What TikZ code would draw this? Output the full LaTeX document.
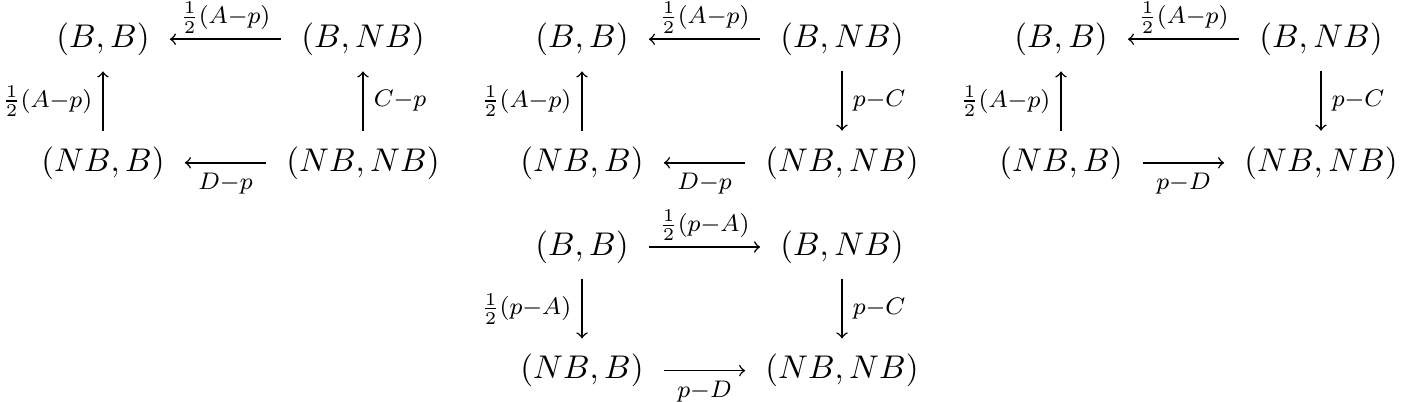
\documentclass[tikz,border=0pt]{standalone}
\usepackage{amsmath,amsfonts,amssymb}
\usepackage{tikz}
\usetikzlibrary{positioning}

\begin{document}
\begin{tikzpicture}[->,>=to,line width=0.5pt,on grid,node distance=41.2pt and 86.67pt,
  nodes={font=\fontsize{10.95pt}{13.6pt}\selectfont},
  cell/.style={inner xsep=6.5pt,inner ysep=5pt},
  toplab/.style={above,inner sep=1.8pt}]
\useasboundingbox (0,0) rectangle (468pt,133.67pt);
% first square
\node[cell] (bb1) at (34.33pt,120.6pt) {$(B,B)$};
\node[cell] (bnb1) [right=of bb1] {$(B,NB)$};
\node[cell] (nbb1) [below=of bb1] {$(NB,B)$};
\node[cell] (nbnb1) [right=of nbb1] {$(NB,NB)$};
% second square
\node[cell] (bb2) at (194pt,120.6pt) {$(B,B)$};
\node[cell] (bnb2) [right=of bb2] {$(B,NB)$};
\node[cell] (nbb2) [below=of bb2] {$(NB,B)$};
\node[cell] (nbnb2) [right=of nbb2] {$(NB,NB)$};
% third square
\node[cell] (bb3) at (353.67pt,120.6pt) {$(B,B)$};
\node[cell] (bnb3) [right=of bb3] {$(B,NB)$};
\node[cell] (nbb3) [below=of bb3] {$(NB,B)$};
\node[cell] (nbnb3) [right=of nbb3] {$(NB,NB)$};
% fourth square
\node[cell] (bb4) at (194pt,51.33pt) {$(B,B)$};
\node[cell] (bnb4) [right=of bb4] {$(B,NB)$};
\node[cell] (nbb4) [below=of bb4] {$(NB,B)$};
\node[cell] (nbnb4) [right=of nbb4] {$(NB,NB)$};

\path (bnb1) edge node[toplab] {$\scriptstyle\frac{1}{2}(A-p)$} (bb1)
(nbb1) edge node[left] {$\scriptstyle\frac{1}{2}(A-p)$} (bb1)
(nbnb1) edge node[right] {$\scriptstyle C-p$} (bnb1)
(nbnb1) edge node[below] {$\scriptstyle D-p$} (nbb1);

\path (bnb2) edge node[toplab] {$\scriptstyle\frac{1}{2}(A-p)$} (bb2)
(nbb2) edge node[left] {$\scriptstyle\frac{1}{2}(A-p)$} (bb2)
(bnb2) edge node[right] {$\scriptstyle p-C$} (nbnb2)
(nbnb2) edge node[below] {$\scriptstyle D-p$} (nbb2);

\path (bnb3) edge node[toplab] {$\scriptstyle\frac{1}{2}(A-p)$} (bb3)
(nbb3) edge node[left] {$\scriptstyle\frac{1}{2}(A-p)$} (bb3)
(bnb3) edge node[right] {$\scriptstyle p-C$} (nbnb3)
(nbb3) edge node[below] {$\scriptstyle p-D$} (nbnb3);

\path (bb4) edge node[toplab] {$\scriptstyle\frac{1}{2}(p-A)$} (bnb4)
(bb4) edge node[left] {$\scriptstyle\frac{1}{2}(p-A)$} (nbb4)
(bnb4) edge node[right] {$\scriptstyle p-C$} (nbnb4)
(nbb4) edge node[below] {$\scriptstyle p-D$} (nbnb4);
\end{tikzpicture}
\end{document}
